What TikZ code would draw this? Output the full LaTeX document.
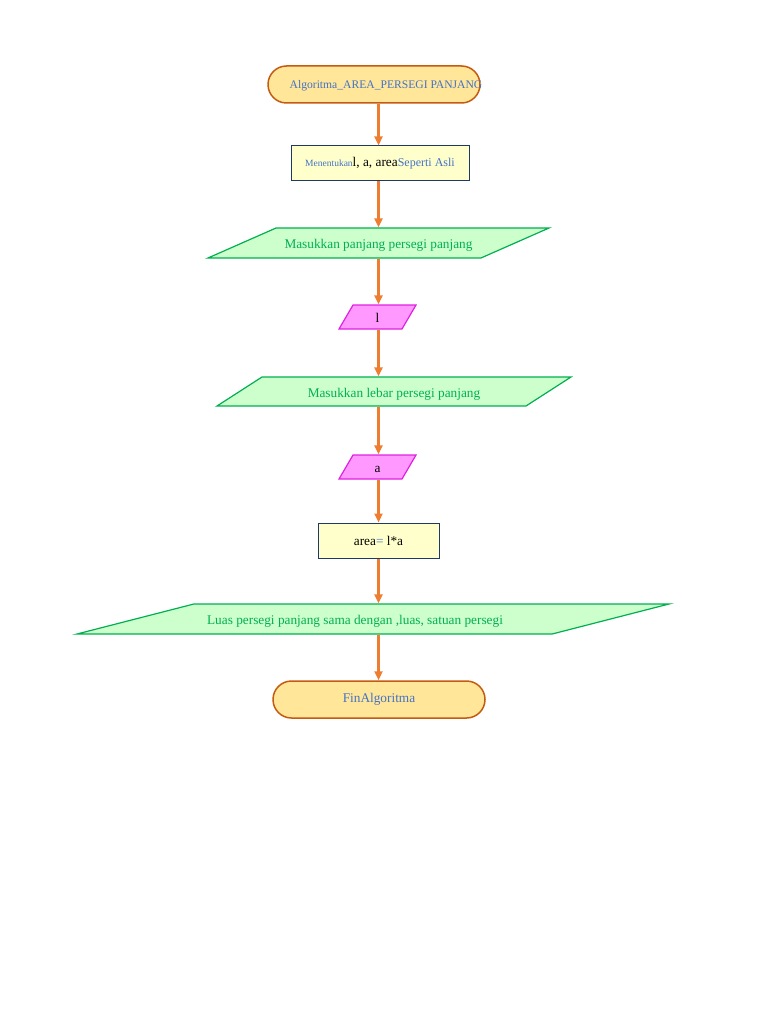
\documentclass[tikz,border=0pt]{standalone}
\usepackage{fontspec}
\setmainfont{Liberation Serif}
\usetikzlibrary{shapes.geometric, shapes.misc, arrows.meta}

\definecolor{termfill}{HTML}{FFE699}
\definecolor{termline}{HTML}{C55A11}
\definecolor{boxfill}{HTML}{FFFFCC}
\definecolor{boxline}{HTML}{1F3864}
\definecolor{iofill}{HTML}{CCFFCC}
\definecolor{ioline}{HTML}{00B050}
\definecolor{varfill}{HTML}{FF99FF}
\definecolor{varline}{HTML}{E020E0}
\definecolor{arrowc}{HTML}{ED7D31}
\definecolor{textblue}{HTML}{4472C4}

\begin{document}
\begin{tikzpicture}[x=1pt, y=-1pt,
  every node/.style={font=\fontsize{13.3}{15}\selectfont, align=center},
  term/.style={rounded rectangle, draw=termline, fill=termfill, line width=1.5pt, minimum width=212, minimum height=37, inner sep=0, text=textblue},
  box/.style={draw=boxline, fill=boxfill, line width=1pt, minimum height=35, inner sep=0},
  io/.style={trapezium, trapezium stretches body, draw=ioline, fill=iofill, line width=1.2pt, text height=20.5pt, text depth=9.5pt, inner sep=0, text=ioline},
  var/.style={io, draw=varline, fill=varfill, text=black, text height=17pt, text depth=7pt, minimum width=77, trapezium left angle=59.7, trapezium right angle=120.3},
  arrow/.style={draw=arrowc, line width=2.2pt, -{Triangle[length=9pt,width=8pt]}}
]
\useasboundingbox (0,0) rectangle (768,1024);

\coordinate (spine) at (378.5,0);

\node[term, label={[text=textblue, xshift=12pt, yshift=-1pt, font=\fontsize{11.6}{14}\selectfont]center:Algoritma\_AREA\_PERSEGI PANJANG}] (start) at (374,84.5) {};

\node[box, minimum width=178] (setup) at (380,163.5) {{\color{textblue}\fontsize{9.5}{10}\selectfont Menentukan}l, a, area{\color{textblue}\fontsize{12}{14}\selectfont Seperti Asli}};

\node[io, minimum width=341, trapezium left angle=23.8, trapezium right angle=156.2] (askl) at (378.5,243) {Masukkan panjang persegi panjang};

\node[var] (inl) at (377.5,317) {l};

\node[io, text height=20pt, text depth=9pt, minimum width=354, trapezium left angle=32.8, trapezium right angle=147.2] (aska) at (394,391.5) {Masukkan lebar persegi panjang};

\node[var] (ina) at (377.5,467) {a};

\node[box, minimum width=121] (calc) at (378.5,540.5) {area{\color{textblue}=} l*a};

\node[io, minimum width=592, trapezium left angle=14.4, trapezium right angle=165.6] (show) at (373,619) {\hspace*{-36pt}Luas persegi panjang sama dengan ,luas, satuan persegi};

\node[term] (finish) at (379,699.5) {FinAlgoritma};

% FLOW
\draw[arrow] (start.south -| spine) -- (setup.north -| spine);
\draw[arrow] (setup.south -| spine) -- (askl.north -| spine);
\draw[arrow] (askl.south -| spine) -- (inl.north -| spine);
\draw[arrow] (inl.south -| spine) -- (aska.north -| spine);
\draw[arrow] (aska.south -| spine) -- (ina.north -| spine);
\draw[arrow] (ina.south -| spine) -- (calc.north -| spine);
\draw[arrow] (calc.south -| spine) -- (show.north -| spine);
\draw[arrow] (show.south -| spine) -- (finish.north -| spine);

\end{tikzpicture}
\end{document}
